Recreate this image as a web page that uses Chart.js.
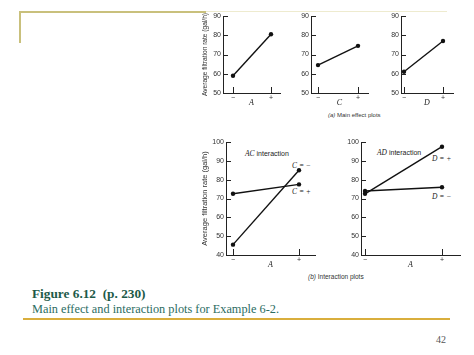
<!DOCTYPE html>
<html><head><meta charset="utf-8">
<script src="https://cdn.jsdelivr.net/npm/chart.js@4/dist/chart.umd.min.js"></script>
<style>
html,body{margin:0;padding:0;background:#fff}
body{width:474px;height:355px;position:relative;overflow:hidden;font-family:"Liberation Sans",Arial,sans-serif}
canvas{position:absolute}
.t{position:absolute;white-space:nowrap;color:#222}
.s{font-family:"Liberation Serif","Times New Roman",serif;font-style:italic;color:#222}
.ln{position:absolute}
</style></head>
<body>
<div class="ln" style="left:19px;top:11px;width:1.5px;height:32px;background:#c9c07c"></div>
<div class="ln" style="left:19px;top:11px;width:187px;height:1.5px;background:#c9c07c"></div>
<div class="ln" style="left:206px;top:11px;width:241px;height:1px;background:#eeebcf"></div>
<div class="ln" style="left:23px;top:318px;width:427px;height:2px;background:#d9ae3c"></div>

<div class="t" style="left:328px;top:112px;font-size:6px;line-height:6px;color:#333"><span style="font-style:italic">(a)</span> Main effect plots</div>
<div class="t" style="left:308px;top:274px;font-size:6.5px;line-height:6.5px;color:#333"><span style="font-style:italic">(b)</span> Interaction plots</div>

<div class="t" style="left:245px;top:149.5px;font-size:7px;line-height:7px"><span class="s" style="font-size:7.5px">AC</span> interaction</div>
<div class="t s" style="left:292px;top:162px;font-size:7.5px;line-height:7.5px">C = −</div>
<div class="t s" style="left:292px;top:188px;font-size:7.5px;line-height:7.5px">C = +</div>
<div class="t" style="left:377px;top:148.5px;font-size:7px;line-height:7px"><span class="s" style="font-size:7.5px">AD</span> interaction</div>
<div class="t s" style="left:432px;top:155px;font-size:7.5px;line-height:7.5px">D = +</div>
<div class="t s" style="left:432px;top:193px;font-size:7.5px;line-height:7.5px">D = −</div>

<div class="t" style="left:32px;top:287px;font-family:'Liberation Serif',serif;font-weight:bold;font-size:13.3px;line-height:14px;color:#1d5a48">Figure 6.12&nbsp; (p. 230)</div>
<div class="t" style="left:32px;top:303px;font-family:'Liberation Serif',serif;font-size:12.3px;line-height:12px;color:#2b6c62">Main effect and interaction plots for Example 6-2.</div>
<div class="t" style="left:436px;top:335px;font-family:'Liberation Serif',serif;font-size:10px;line-height:10px;color:#555">42</div>

<script>
// ---- data ----
const levels = ['−', '+'];
const mainA = [59, 80.5];
const mainC = [64.5, 74.5];
const mainD = [61, 77];
const acCminus = [45.5, 85];
const acCplus = [72.5, 77.5];
const adDplus = [72.5, 97.5];
const adDminus = [74, 76];
const mainTicks = [50, 60, 70, 80, 90];
const interTicks = [40, 50, 60, 70, 80, 90, 100];
const yTitleText = 'Average filtration rate (gal/h)';

// ---- panel layout (page pixels) ----
const panels = [
  {axisX:223, top:16, bottom:93, end:280, lo:233, hi:271, ymin:50, ymax:90, ticks:mainTicks, series:[mainA], xTitle:'A', yTitle:6.6},
  {axisX:311, top:16, bottom:93, end:368, lo:318, hi:358, ymin:50, ymax:90, ticks:mainTicks, series:[mainC], xTitle:'C'},
  {axisX:401, top:16, bottom:93, end:453, lo:404, hi:443, ymin:50, ymax:90, ticks:mainTicks, series:[mainD], xTitle:'D'},
  {axisX:226, top:142.3, bottom:255.7, end:315, lo:233, hi:299, ymin:40, ymax:100, ticks:interTicks, series:[acCminus, acCplus], xTitle:'A', yTitle:7.5},
  {axisX:361, top:142.3, bottom:255.7, end:460, lo:365, hi:442, ymin:40, ymax:100, ticks:interTicks, series:[adDplus, adDminus], xTitle:'A'}
];

const inward = {
  id:'inward',
  afterDraw(chart){
    const {ctx, scales:{x, y}} = chart;
    ctx.save();
    ctx.strokeStyle = '#222'; ctx.lineWidth = 1;
    ctx.beginPath();
    y.ticks.forEach(t => {
      const py = Math.round(y.getPixelForValue(t.value)) + 0.5;
      ctx.moveTo(x.left, py); ctx.lineTo(x.left + 5, py);
    });
    x.ticks.forEach(t => {
      const px = Math.round(x.getPixelForValue(t.value)) + 0.5;
      ctx.moveTo(px, y.bottom); ctx.lineTo(px, y.bottom - 6);
    });
    ctx.stroke();
    ctx.restore();
  }
};

function makePanel(p){
  const padT = 10, padR = 4;
  const yW = p.yTitle ? 27 : 17;
  const xH = 15;
  const left = p.axisX - yW;
  const cw = Math.round(p.end - left + padR);
  const ch = Math.round(padT + (p.bottom - p.top) + xH);
  const cv = document.createElement('canvas');
  cv.width = cw; cv.height = ch;
  cv.style.left = left + 'px';
  cv.style.top = (p.top - padT) + 'px';
  cv.style.width = cw + 'px'; cv.style.height = ch + 'px';
  document.body.appendChild(cv);
  const ppu = p.hi - p.lo;
  const xmin = -(p.lo - p.axisX) / ppu;
  const xmax = xmin + (p.end - p.axisX) / ppu;
  const tfs = p.yTitle || 6;
  const tPadTop = Math.max(0, 205 - left - tfs * 1.2 / 2);
  new Chart(cv, {
    type: 'line',
    data: {
      datasets: p.series.map(s => ({
        data: s.map((v, i) => ({x: i, y: v})),
        borderColor: '#111', backgroundColor: '#111',
        borderWidth: 1.4, pointRadius: 2.2, pointBorderWidth: 0,
        pointBackgroundColor: '#111', tension: 0, clip: false
      }))
    },
    options: {
      responsive: false, animation: false, devicePixelRatio: 1,
      layout: {padding: {top: padT, right: padR, left: 0, bottom: 0}},
      plugins: {legend: {display: false}, tooltip: {enabled: false}},
      scales: {
        x: {
          type: 'linear', min: xmin, max: xmax,
          afterBuildTicks: s => { s.ticks = levels.map((l, i) => ({value: i})); },
          afterFit: s => { s.height = xH; },
          grid: {display: false, drawTicks: false},
          border: {display: true, color: '#222', width: 1},
          ticks: {callback: v => levels[Math.round(v)], padding: 1, color: '#333',
                  font: {family: 'Liberation Sans', size: 7}, maxRotation: 0, autoSkip: false},
          title: {display: true, text: p.xTitle, color: '#222', padding: 0,
                  font: {family: 'Liberation Serif', style: 'italic', size: 8}}
        },
        y: {
          type: 'linear', min: p.ymin, max: p.ymax,
          afterBuildTicks: s => { s.ticks = p.ticks.map(v => ({value: v})); },
          afterFit: s => { s.width = yW; },
          grid: {display: false, drawTicks: false},
          border: {display: true, color: '#222', width: 1},
          ticks: {padding: 2, color: '#333', font: {family: 'Liberation Sans', size: 7}},
          title: {display: !!p.yTitle, text: yTitleText, color: '#333',
                  padding: {top: tPadTop, bottom: 0},
                  font: {family: 'Liberation Sans', size: tfs}}
        }
      }
    },
    plugins: [inward]
  });
}
panels.forEach(makePanel);
</script>
</body></html>
